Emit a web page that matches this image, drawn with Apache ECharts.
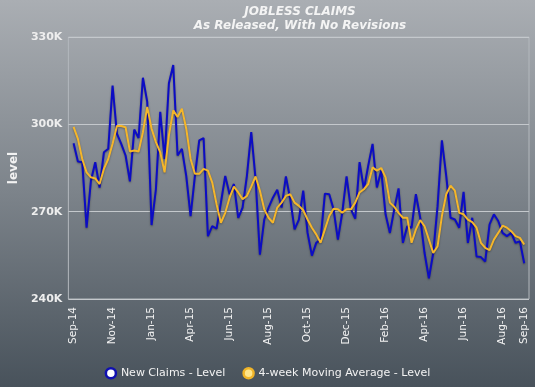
<!DOCTYPE html>
<html>
<head>
<meta charset="utf-8">
<script src="https://cdn.jsdelivr.net/npm/echarts@6/dist/echarts.min.js"></script>
<style>
html,body{margin:0;padding:0;}
#chart{width:535px;height:387px;}
</style>
</head>
<body>
<div id="chart"></div>
<script>
// Weekly dates (week ending), 2014-09-27 .. 2016-09-24
var startDate = '2014-09-27';
var weekCount = 105;

// New Claims - Level (thousands)
var newClaims = [
  293.5, 287.2, 287.0, 264.5, 280.6, 287.0, 278.3, 290.4, 291.6, 313.3,
  296.8, 293.3, 289.3, 280.4, 298.2, 295.3, 316.0, 307.7, 265.4, 277.7,
  304.3, 288.1, 314.1, 320.4, 289.3, 291.6, 282.3, 268.5, 282.3, 294.5,
  295.3, 261.6, 265.0, 264.2, 273.1, 282.3, 276.0, 279.5, 267.9, 271.4,
  282.3, 297.3, 281.2, 255.2, 267.3, 271.4, 274.8, 277.5, 271.4, 282.1,
  274.3, 263.9, 267.3, 277.2, 262.7, 254.9, 259.3, 260.4, 276.2, 276.0,
  270.8, 260.4, 269.6, 282.1, 270.8, 267.6, 287.0, 277.7, 285.8, 293.3,
  278.3, 284.1, 269.1, 262.7, 270.8, 278.0, 259.3, 265.0, 264.5, 276.0,
  267.9, 255.8, 247.1, 255.8, 271.9, 294.5, 282.3, 267.9, 267.3, 264.5,
  276.8, 259.3, 267.9, 254.6, 254.4, 252.9, 265.6, 269.1, 266.8, 262.7,
  261.6, 262.7, 259.3, 259.8, 252.3
];

// 4-week Moving Average - Level (thousands)
var movingAvg = [
  299.1, 295.0, 288.1, 283.5, 281.8, 281.4, 279.5, 284.7, 288.1, 293.3,
  299.4, 299.4, 299.0, 290.7, 291.0, 290.7, 297.3, 306.0, 298.5, 293.9,
  290.4, 283.5, 296.2, 304.8, 302.5, 305.4, 298.5, 288.1, 283.0, 283.0,
  284.7, 284.1, 280.0, 272.5, 266.2, 269.6, 274.8, 278.6, 276.6, 274.3,
  275.4, 278.6, 282.1, 277.2, 270.8, 267.9, 266.2, 271.4, 273.1, 275.4,
  276.0, 273.1, 272.0, 270.5, 267.3, 264.5, 262.2, 259.3, 263.9, 268.5,
  271.0, 270.8, 269.6, 270.8, 270.8, 273.1, 276.6, 277.7, 279.5, 285.2,
  284.1, 285.0, 281.8, 273.1, 271.7, 269.6, 267.9, 267.9, 259.3, 263.9,
  267.1, 265.0, 260.4, 255.8, 258.1, 268.5, 276.0, 278.9, 277.2, 269.6,
  269.1, 267.3, 266.4, 264.5, 259.3, 257.6, 256.8, 260.4, 262.7, 265.2,
  264.5, 263.3, 261.6, 261.0, 258.7
];

// X tick labels and the week index they sit on
var tickIndex  = [0, 9, 18, 27, 36, 45, 54, 63, 72, 81, 90, 99, 104];
var tickLabels = ['Sep-14','Nov-14','Jan-15','Apr-15','Jun-15','Aug-15','Oct-15','Dec-15','Feb-16','Apr-16','Jun-16','Aug-16','Sep-16'];

// Y axis ticks (thousands)
var yTicks = [240, 270, 300, 330];

var seriesNames = ['New Claims - Level', '4-week Moving Average - Level'];

// build date categories
var dates = [];
(function(){
  var d = new Date(startDate + 'T00:00:00Z');
  for (var i = 0; i < weekCount; i++) {
    dates.push(new Date(d.getTime() + i * 7 * 86400000).toISOString().slice(0,10));
  }
})();

function toPairs(arr){ return arr.map(function(v,i){ return [i, v * 1000]; }); }

var chart = echarts.init(document.getElementById('chart'), null, {renderer:'canvas'});
var labelFont = 'DejaVu Sans';
var option = {
  backgroundColor: {
    type: 'linear', x: 0, y: 0, x2: 0, y2: 1,
    colorStops: [
      {offset: 0, color: '#aaaeb3'},
      {offset: 0.5, color: '#7c838a'},
      {offset: 1, color: '#48525b'}
    ]
  },
  animation: false,
  title: [{
    text: 'JOBLESS CLAIMS',
    subtext: 'As Released, With No Revisions',
    left: 295, top: 1, textAlign: 'center', itemGap: 2,
    textStyle: {color: '#f4f4f4', fontFamily: labelFont, fontSize: 12, fontWeight: 'bold', fontStyle: 'italic'},
    subtextStyle: {color: '#f4f4f4', fontFamily: labelFont, fontSize: 12, fontWeight: 'bold', fontStyle: 'italic'}
  }],
  legend: {
    left: 'center', top: 362,
    itemWidth: 10, itemHeight: 10, itemGap: 17,
    textStyle: {color: '#f2f2f2', fontFamily: labelFont, fontSize: 11},
    data: [
      {name: seriesNames[0], icon: 'circle', itemStyle: {color: '#ffffff', borderColor: '#1010b0', borderWidth: 2.5}},
      {name: seriesNames[1], icon: 'circle', itemStyle: {color: '#ffe58a', borderColor: '#f0b428', borderWidth: 2.5}}
    ]
  },
  grid: {
    left: 61, right: 6, top: 37, bottom: 88,
    show: true, borderColor: '#b3b8bd', borderWidth: 1, backgroundColor: 'transparent'
  },
  xAxis: {
    type: 'value', min: -1.2, max: 105.1,
    splitLine: {show: false},
    axisLine: {show: false},
    axisTick: {show: false, customValues: tickIndex},
    axisLabel: {
      customValues: tickIndex,
      rotate: 90, color: '#f2f2f2', fontFamily: labelFont, fontSize: 10.5, margin: 8,
      formatter: function(v){ var k = tickIndex.indexOf(Math.round(v)); return k >= 0 ? tickLabels[k] : ''; }
    }
  },
  yAxis: {
    type: 'value', min: yTicks[0] * 1000, max: yTicks[yTicks.length-1] * 1000, interval: 30000,
    name: 'level', nameLocation: 'middle', nameGap: 44, nameRotate: 90,
    nameTextStyle: {color: '#f2f2f2', fontFamily: labelFont, fontSize: 12, fontWeight: 'bold'},
    axisLine: {show: false}, axisTick: {show: false},
    splitLine: {lineStyle: {color: '#c4c8cc', width: 1}},
    axisLabel: {
      color: '#eeeeee', fontFamily: labelFont, fontSize: 11, fontWeight: 'bold', margin: 6,
      formatter: function(v){ return (v/1000) + 'K'; }
    }
  },
  series: [
    {
      name: seriesNames[0], type: 'line', data: toPairs(newClaims),
      showSymbol: false, symbol: 'none',
      lineStyle: {color: '#0c0cc4', width: 2, shadowColor: 'rgba(0,0,0,0.35)', shadowBlur: 2, shadowOffsetY: 1},
      itemStyle: {color: '#0c0cc4'}
    },
    {
      name: seriesNames[1], type: 'line', data: toPairs(movingAvg),
      showSymbol: false, symbol: 'none',
      lineStyle: {color: '#f5b62a', width: 2, shadowColor: 'rgba(0,0,0,0.35)', shadowBlur: 2, shadowOffsetY: 1},
      itemStyle: {color: '#f5b62a'}
    }
  ]
};
chart.setOption(option);
</script>
</body>
</html>
